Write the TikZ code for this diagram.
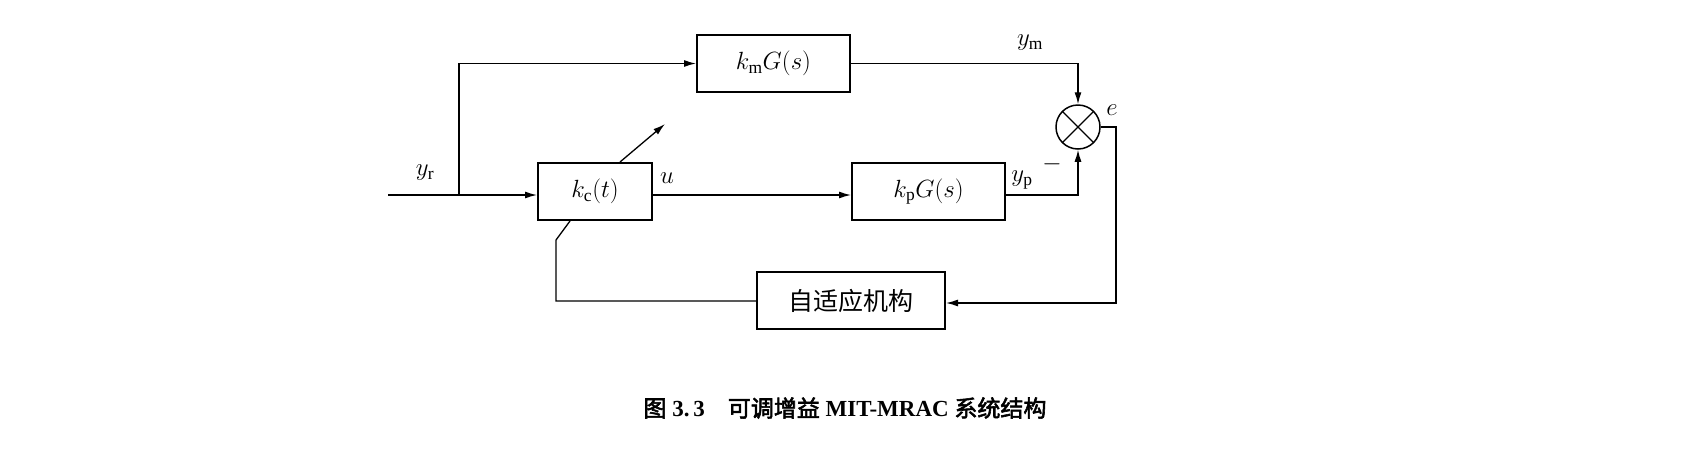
\documentclass[tikz,border=0pt]{standalone}
\usepackage{fontspec}
\setmainfont{Liberation Serif}
\newfontfamily\cjk[AutoFakeBold=2.5]{Noto Sans CJK SC}
\usetikzlibrary{arrows.meta,calc}
\begin{document}
\begin{tikzpicture}[x=1pt,y=-1pt,line width=1.3pt,
  blk/.style={draw,line width=2pt,minimum width=#1,minimum height=57pt,inner sep=0pt,font=\fontsize{25}{27}\selectfont},
  arr/.style={-{Latex[length=12pt,width=7pt]}},
  lab/.style={font=\fontsize{25}{27}\selectfont,inner sep=0pt}]
\useasboundingbox (0,0) rectangle (1690,472);
\node[blk=153pt] (km) at (773.5,63.5) {$k_{\mathrm m}G(s)$};
\node[blk=114pt] (kc) at (595,191.5) {$k_{\mathrm c}(t)$};
\node[blk=153pt] (kp) at (928.5,191.5) {$k_{\mathrm p}G(s)$};
\node[blk=188pt] (ad) at (851,300.5) {\cjk 自适应机构};
\node[draw,circle,minimum size=44pt,inner sep=0pt,line width=1.5pt] (sum) at (1078,127) {};
\draw ($(sum.center)+(-15.5,-15.5)$) -- ($(sum.center)+(15.5,15.5)$);
\draw ($(sum.center)+(-15.5,15.5)$) -- ($(sum.center)+(15.5,-15.5)$);
\coordinate (in) at (388,195);
\coordinate (br) at (459,195);
\draw[arr] (in) -- (kc.west |- in);
\draw[arr] (br) -- (459,63.5) -- (km.west);
\draw[arr] (km.east) -- (sum.north |- km.east) -- (sum.north);
\draw[arr] (kc.east |- 0,195) -- (kp.west |- 0,195);
\draw[arr] (kp.east |- 0,195) -- (sum.south |- 0,195) -- (sum.south);
\draw[arr] (sum.east) -- (1116,127) -- (1116,303) -- (ad.east |- 0,303);
\draw (ad.west |- 0,301) -- (556,301) -- (556,240) -- (570,221);
\draw[arr] (620,162) -- (665,124);
\node[lab] (yr) at (425,173) {$y_{\mathrm r}$};
\node[lab] (u) at (667,178) {$u$};
\node[lab] (ym) at (1030,43) {$y_{\mathrm m}$};
\node[lab] (yp) at (1022,180) {$y_{\mathrm p}$};
\node[lab] (mn) at (1052,164) {$-$};
\node[lab] (e) at (1112,110) {$e$};
\node[font=\fontsize{23}{25}\selectfont,inner sep=0pt] (cap) at (845,408) {{\cjk\bfseries 图}\ {\rmfamily\bfseries 3.\,3}\quad {\cjk\bfseries 可调增益} {\rmfamily\bfseries MIT-MRAC} {\cjk\bfseries 系统结构}};
\end{tikzpicture}
\end{document}
